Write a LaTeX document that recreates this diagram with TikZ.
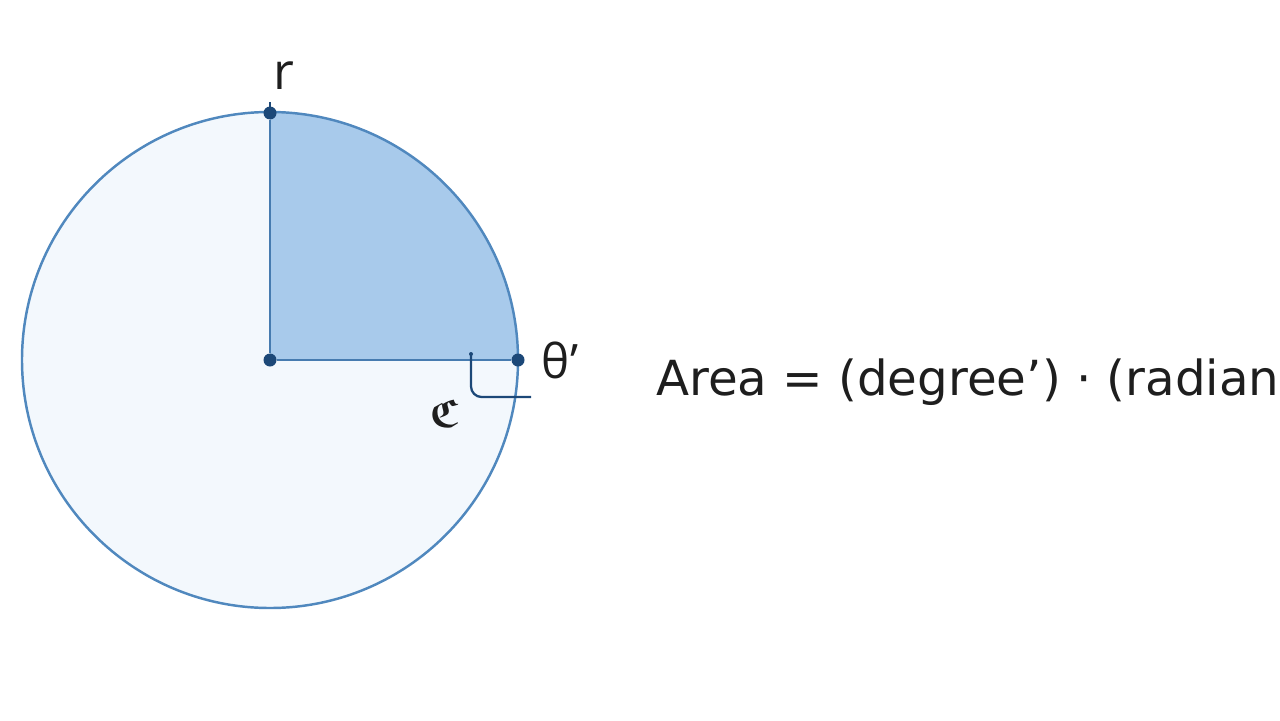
\documentclass[tikz,border=0pt]{standalone}
\usepackage{fontspec}
\setmainfont{Open Sans}
\newfontfamily\symfont{DejaVu Sans}
\usepackage{tikz}
\usetikzlibrary{positioning}
\usepackage{xcolor}
\definecolor{cpale}{RGB}{243,248,253}
\definecolor{cline}{RGB}{80,136,190}
\definecolor{csector}{RGB}{168,202,235}
\definecolor{cdot}{RGB}{28,72,120}
\definecolor{ctext}{RGB}{30,30,30}
\tikzstyle{dot} = [circle, fill=cdot, inner sep=0pt, minimum size=0.26cm]
\tikzstyle{label} = [text=ctext, inner sep=1pt, font=\fontsize{25}{28}\selectfont]
\tikzstyle{radline} = [draw=cline!80!cdot, line width=1.6pt]

\begin{document}
\begin{tikzpicture}[x=0.02cm, y=-0.02cm]
\useasboundingbox (0,0) rectangle (1280,720);
% Circle and quarter sector
\fill[cpale] (270,360) circle [radius=248];
\fill[csector] (270,360) -- (518,360) arc [start angle=0, end angle=-90, radius=248] -- cycle;
\draw[cline, line width=1.4pt] (270,360) circle [radius=248];

% Points
\node (centre) [dot] at (270,360) {};
\node (top) [dot] at (270,113) {};
\node (right) [dot] at (518,360) {};
\coordinate (tick) at (270,102);

\draw[radline] (centre) -- (top);
\draw[radline] (centre) -- (right);
\draw[cdot, line width=1.2pt] (top.center) -- (tick);

% Bracket
\coordinate (bra) at (471,354);
\coordinate (brb) at (531,397);
\fill[cdot] (bra) circle [radius=2];
\draw[cdot, line width=1.3pt, rounded corners=6pt] (bra) |- (brb);

% Labels
\node (rlab) [label, font=\fontsize{29}{32}\selectfont] at (284,76) {r};
\node (thlab) [label, right=0.3cm of right, font=\fontsize{27}{30}\selectfont] {θ’};
\node (clab) [label, font=\symfont\bfseries\fontsize{21}{24}\selectfont] at (446,414) {ℭ};

% Formula
\node (area) [label, anchor=west, font=\symfont\fontsize{27.5}{30}\selectfont] at (654,382) {Area = (degree’) · (radian};
\end{tikzpicture}
\end{document}
